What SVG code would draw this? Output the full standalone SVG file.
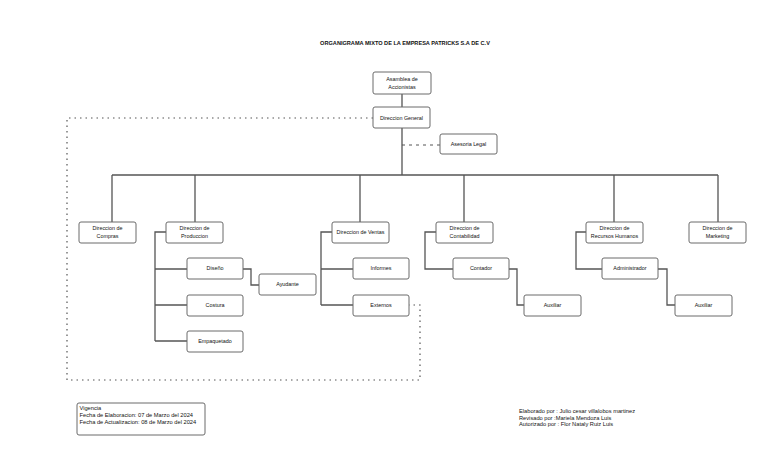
<svg xmlns="http://www.w3.org/2000/svg" width="768" height="475" viewBox="0 0 768 475">
<style>
.bg{fill:#fff}
.box{fill:#fff;stroke:#6b6b6b;stroke-width:1}
.t{font-family:"Liberation Sans",Arial,sans-serif;font-size:5.4px;fill:#111;text-anchor:middle}
.tl{font-family:"Liberation Sans",Arial,sans-serif;font-size:5.7px;fill:#111}
.title{font-family:"Liberation Sans",Arial,sans-serif;font-size:5.6px;font-weight:bold;fill:#111;text-anchor:middle}
.ln{fill:none;stroke:#555;stroke-width:1.3}
.dash{fill:none;stroke:#555;stroke-width:1;stroke-dasharray:3 4}
.dot{fill:none;stroke:#555;stroke-width:1.2;stroke-dasharray:1.5 4}
</style>
<rect class="bg" width="768" height="475"/>
<text class="title" x="405" y="45">ORGANIGRAMA MIXTO DE LA EMPRESA  PATRICKS S.A DE C.V</text>
<g id="connectors">
<path class="ln" d="M402 94V107M402 128V175M112 175H718M112 175V222M195 175V222M360 175V222M464 175V222M614 175V222M718 175V222"/>
<path class="dash" d="M402 145H440"/>
<path class="dot" d="M373 118H67V380H420V305H409"/>
<path class="ln" d="M166 232H155V341M155 269H187M155 305H187M155 341H187"/>
<path class="ln" d="M243 269H251V285H259"/>
<path class="ln" d="M332 232H321V305M321 269H353M321 305H353"/>
<path class="ln" d="M436 232H425V269H453"/>
<path class="ln" d="M509 269H517V305H524"/>
<path class="ln" d="M586 232H576V269H602"/>
<path class="ln" d="M658 269H667V305H675"/>
</g>
<g id="asamblea"><rect class="box" x="373" y="72" width="58" height="22" rx="2"/><text class="t" x="402" y="81">Asamblea de</text><text class="t" x="402" y="88.5">Accionistas</text></g>
<g id="direccion-general"><rect class="box" x="373" y="107" width="57" height="21" rx="2"/><text class="t" x="401.5" y="119.5">Direccion General</text></g>
<g id="asesoria-legal"><rect class="box" x="440" y="134" width="57" height="20" rx="2"/><text class="t" x="468.5" y="145.5">Asesoria Legal</text></g>
<g id="compras"><rect class="box" x="79" y="222" width="57" height="21" rx="2"/><text class="t" x="107.5" y="230">Direccion de</text><text class="t" x="107.5" y="237.5">Compras</text></g>
<g id="produccion"><rect class="box" x="166" y="222" width="57" height="21" rx="2"/><text class="t" x="194.5" y="230">Direccion de</text><text class="t" x="194.5" y="237.5">Produccion</text></g>
<g id="ventas"><rect class="box" x="332" y="222" width="57" height="21" rx="2"/><text class="t" x="360.5" y="234">Direccion de Ventas</text></g>
<g id="contabilidad"><rect class="box" x="436" y="222" width="57" height="21" rx="2"/><text class="t" x="464.5" y="230">Direccion de</text><text class="t" x="464.5" y="237.5">Contabilidad</text></g>
<g id="recursos-humanos"><rect class="box" x="586" y="222" width="57" height="21" rx="2"/><text class="t" x="614.5" y="230">Direccion de</text><text class="t" x="614.5" y="237.5">Recursos Humanos</text></g>
<g id="marketing"><rect class="box" x="689" y="222" width="57" height="21" rx="2"/><text class="t" x="717.5" y="230">Direccion de</text><text class="t" x="717.5" y="237.5">Marketing</text></g>
<g id="diseno"><rect class="box" x="187" y="258" width="56" height="21" rx="2"/><text class="t" x="215" y="270">Diseño</text></g>
<g id="costura"><rect class="box" x="187" y="295" width="56" height="21" rx="2"/><text class="t" x="215" y="307">Costura</text></g>
<g id="empaquetado"><rect class="box" x="187" y="331" width="56" height="21" rx="2"/><text class="t" x="215" y="343">Empaquetado</text></g>
<g id="ayudante"><rect class="box" x="259" y="274" width="57" height="21" rx="2"/><text class="t" x="287.5" y="286">Ayudante</text></g>
<g id="informes"><rect class="box" x="353" y="258" width="56" height="21" rx="2"/><text class="t" x="381" y="270">Informes</text></g>
<g id="externos"><rect class="box" x="353" y="295" width="56" height="21" rx="2"/><text class="t" x="381" y="307">Externos</text></g>
<g id="contador"><rect class="box" x="453" y="258" width="56" height="21" rx="2"/><text class="t" x="481" y="270">Contador</text></g>
<g id="auxiliar-1"><rect class="box" x="524" y="295" width="57" height="21" rx="2"/><text class="t" x="552.5" y="307">Auxiliar</text></g>
<g id="administrador"><rect class="box" x="602" y="258" width="56" height="21" rx="2"/><text class="t" x="630" y="270">Administrador</text></g>
<g id="auxiliar-2"><rect class="box" x="675" y="295" width="57" height="21" rx="2"/><text class="t" x="703.5" y="307">Auxiliar</text></g>
<g id="vigencia"><rect class="box" x="77" y="403" width="128" height="32" rx="2"/><text class="tl" x="79.5" y="410">Vigencia</text><text class="tl" x="79.5" y="417">Fecha de Elaboracion: 07 de Marzo del 2024</text><text class="tl" x="79.5" y="424">Fecha de Actualizacion: 08 de Marzo del 2024</text></g>
<g id="firmas"><text class="tl" x="519" y="413">Elaborado por : Julio cesar villalobos martinez</text><text class="tl" x="519" y="419.5">Revisado por :Mariela Mendoza Luis</text><text class="tl" x="519" y="426">Autorizado por : Flor Nataly Ruiz Luis</text></g>
</svg>
